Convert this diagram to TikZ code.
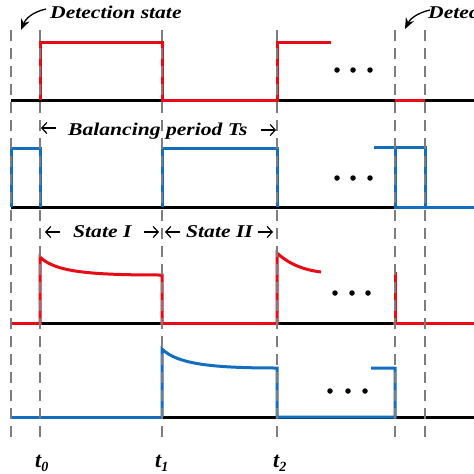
\documentclass[tikz,border=0pt]{standalone}
\usepackage{fontspec}
\setmainfont{Liberation Serif}
\usetikzlibrary{arrows.meta}
\definecolor{sigred}{RGB}{232,10,20}
\definecolor{sigblue}{RGB}{20,110,190}
\definecolor{guide}{RGB}{125,125,125}
\newcommand{\lbl}[1]{\scalebox{1.2}[1]{#1}}
\begin{document}
\begin{tikzpicture}[x=1pt,y=-1pt,
  sig/.style={line width=3pt,line join=miter},
  base/.style={line width=3pt,black},
  rsig/.style={sig,sigred},
  bsig/.style={sig,sigblue},
  guideline/.style={guide,line width=1.6pt,dash pattern=on 11pt off 7pt},
  lab/.style={font=\fontsize{18}{18}\bfseries\itshape\selectfont,inner sep=0pt,anchor=base west},
  spanarrow/.style={line width=1.2pt,-{Straight Barb[length=5pt,width=11pt,line width=1.2pt]}},
  tl/.style={font=\fontsize{22}{22}\bfseries\itshape\selectfont,inner sep=0pt,anchor=base west},
  dot/.style={circle,fill=black,inner sep=0pt,minimum size=5.5pt},
  detarrow/.style={line width=1.3pt,-{Stealth[length=11pt,width=9pt]}}
]
\useasboundingbox (0,0) rectangle (474,474);
\clip (0,0) rectangle (474,474);
\fill[white] (0,0) rectangle (474,474);

% ---------- Row 1 (red) ----------
\draw[base] (11,100) -- (474,100);
\draw[rsig] (40,100) -- (40,42) -- (162,42) -- (162,100) -- (277,100) -- (277,42) -- (331,42);
\draw[rsig] (395,100) -- (425,100);
\node[dot] (d1a) at (337,70) {};
\node[dot] (d1b) at (353,70) {};
\node[dot] (d1c) at (370,70) {};

% ---------- Row 2 (blue) ----------
\draw[base] (11,207) -- (395,207);
\draw[bsig] (11,207) -- (11,148) -- (40,148) -- (40,207);
\draw[bsig] (162,207) -- (162,148) -- (277,148) -- (277,207);
\draw[bsig] (374,147) -- (425,147) -- (425,207);
\draw[bsig] (395,147) -- (395,207) -- (474,207);
\node[dot] (d2a) at (337,178) {};
\node[dot] (d2b) at (353,178) {};
\node[dot] (d2c) at (370,178) {};

% ---------- Row 3 (red) ----------
\draw[rsig] (11,323) -- (474,323);
\draw[base] (42,323) -- (160,323);
\draw[base] (279,323) -- (393,323);
\draw[rsig] (40,323) -- (40,257) .. controls (55,272) and (90,275) .. (162,275) -- (162,323);
\draw[rsig] (277,323) -- (277,253) .. controls (290,265) and (305,270) .. (321,272);
\draw[rsig] (395,272) -- (395,323);
\node[dot] (d3a) at (335,293) {};
\node[dot] (d3b) at (352,293) {};
\node[dot] (d3c) at (368,293) {};

% ---------- Row 4 (blue) ----------
\draw[base] (11,417) -- (474,417);
\draw[bsig] (11,417) -- (162,417);
\draw[bsig] (162,417) -- (162,349) .. controls (177,364) and (212,368) .. (277,368) -- (277,417) -- (395,417) -- (395,368) -- (371,368);
\node[dot] (d4a) at (330,391) {};
\node[dot] (d4b) at (348,391) {};
\node[dot] (d4c) at (365,391) {};

% ---------- guide lines ----------
\foreach \gx in {11,40,162,277,395,425}
  \draw[guideline] (\gx,30) -- (\gx,440);

% ---------- labels ----------
\node[lab] (det1) at (50,18) {\lbl{Detection state}};
\node[lab] (det2) at (428,18) {\lbl{Detection state}};
\coordinate (det1s) at (46,9);
\coordinate (det1e) at (21,30);
\coordinate (det2s) at (430,10);
\coordinate (det2e) at (405,29);
\draw[detarrow] (det1s) .. controls (33,12) and (26,18) .. (det1e);
\draw[detarrow] (det2s) .. controls (417,13) and (410,19) .. (det2e);

\node[lab] (bal) at (68,135) {\lbl{Balancing period Ts}};
\coordinate (bl0) at (56,128); \coordinate (bl1) at (41,128);
\coordinate (br0) at (261,130); \coordinate (br1) at (276,130);
\draw[spanarrow] (bl0) -- (bl1);
\draw[spanarrow] (br0) -- (br1);

\node[lab] (s1) at (73,237) {\lbl{State \textit{I}}};
\node[lab] (s2) at (186,237) {\lbl{State \textit{II}}};
\coordinate (s1l0) at (60,232); \coordinate (s1l1) at (45,232);
\coordinate (s1r0) at (144,232); \coordinate (s1r1) at (159,232);
\coordinate (s2l0) at (180,232); \coordinate (s2l1) at (165,232);
\coordinate (s2r0) at (258,232); \coordinate (s2r1) at (273,232);
\draw[spanarrow] (s1l0) -- (s1l1);
\draw[spanarrow] (s1r0) -- (s1r1);
\draw[spanarrow] (s2l0) -- (s2l1);
\draw[spanarrow] (s2r0) -- (s2r1);

\node[tl] (t0) at (35,467) {t\raisebox{-4pt}{\fontsize{14}{14}\selectfont 0}};
\node[tl] (t1) at (155,467) {t\raisebox{-4pt}{\fontsize{14}{14}\selectfont 1}};
\node[tl] (t2) at (273,467) {t\raisebox{-4pt}{\fontsize{14}{14}\selectfont 2}};
\end{tikzpicture}
\end{document}
